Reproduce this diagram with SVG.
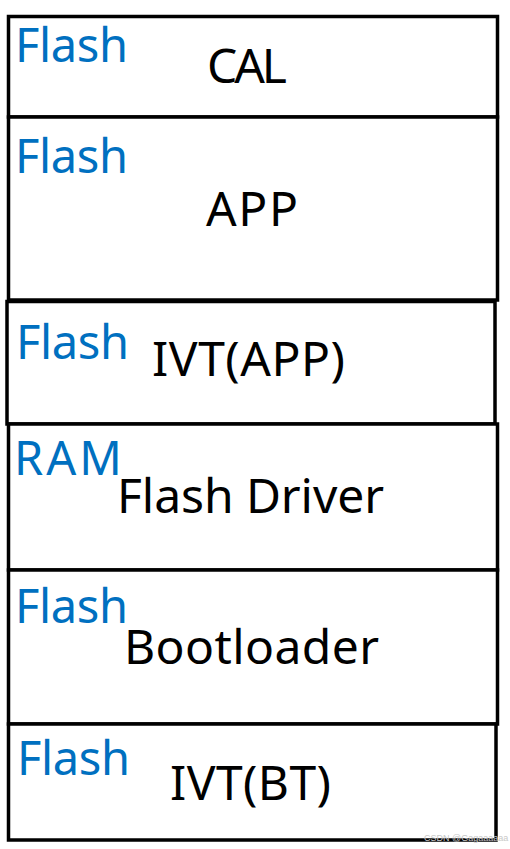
<svg xmlns="http://www.w3.org/2000/svg" width="510" height="849" viewBox="0 0 510 849">
<style>
.box{fill:#fff;stroke:#000;stroke-width:3.5}
.mem{font-family:"Noto Sans","Open Sans",sans-serif;font-size:47px;fill:#0070C0}
.lbl{font-family:"Noto Sans","Open Sans",sans-serif;font-size:48px;fill:#000}
.wm{font-family:"Liberation Sans",sans-serif;font-size:9px;fill:#c8c8c8}
</style>
<rect width="510" height="849" fill="#fff"/>
<g id="cal">
<rect class="box" x="8.5" y="16.5" width="489" height="100.5"/>
<text class="mem" x="15" y="62" textLength="113">Flash</text>
<text class="lbl" x="207" y="83" textLength="80">CAL</text>
</g>
<g id="app">
<rect class="box" x="8.5" y="117" width="489" height="183"/>
<text class="mem" x="15" y="173" textLength="113">Flash</text>
<text class="lbl" x="206" y="226" textLength="92">APP</text>
</g>
<g id="ivt-app">
<rect class="box" x="7" y="301.5" width="488" height="122.5"/>
<text class="mem" x="16" y="359" textLength="113">Flash</text>
<text class="lbl" x="152" y="376" textLength="193">IVT(APP)</text>
</g>
<g id="flash-driver">
<rect class="box" x="8.5" y="424" width="489" height="146"/>
<text class="mem" x="14" y="475" textLength="108">RAM</text>
<text class="lbl" x="117" y="513" textLength="267">Flash Driver</text>
</g>
<g id="bootloader">
<rect class="box" x="8.5" y="570" width="489" height="154"/>
<text class="mem" x="15" y="623" textLength="113">Flash</text>
<text class="lbl" x="124" y="664" textLength="255">Bootloader</text>
</g>
<g id="ivt-bt">
<rect class="box" x="8.5" y="724" width="487.5" height="116"/>
<text class="mem" x="17" y="775" textLength="113">Flash</text>
<text class="lbl" x="170" y="800" textLength="161">IVT(BT)</text>
</g>
<text class="wm" x="424" y="841">CSDN @Gagaaaaaa</text>
</svg>
